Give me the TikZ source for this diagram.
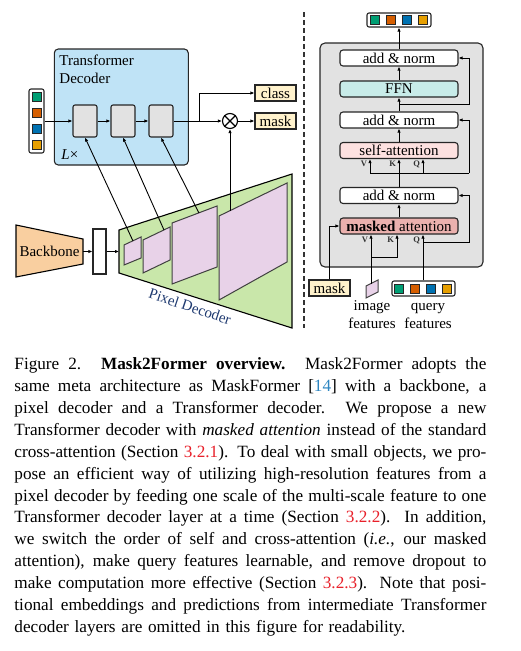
\documentclass[tikz,border=0pt]{standalone}
\usepackage{fontspec}
\setmainfont{Liberation Serif}
\usepackage{xcolor}
\usetikzlibrary{arrows.meta,calc}
\definecolor{tdblue}{HTML}{BFE3F6}
\definecolor{blkgray}{HTML}{E2E2E2}
\definecolor{pdgreen}{HTML}{C9E7AA}
\definecolor{featpink}{HTML}{E8D2E8}
\definecolor{bbpeach}{HTML}{F9CFA0}
\definecolor{outcream}{HTML}{FFF2CC}
\definecolor{ffnteal}{HTML}{C8ECE9}
\definecolor{sapink}{HTML}{FDE1E0}
\definecolor{mapink}{HTML}{EBB1AE}
\definecolor{qgreen}{HTML}{009E73}
\definecolor{qorange}{HTML}{D55E00}
\definecolor{qblue}{HTML}{0072B2}
\definecolor{qyellow}{HTML}{E69F00}
\definecolor{pdtext}{HTML}{1F3A70}
\definecolor{citeblue}{HTML}{2E86C1}
\definecolor{refred}{HTML}{E8202A}
\newcommand{\capline}[1]{\makebox[472pt][s]{\spaceskip=0pt\xspaceskip=0pt #1}}

\begin{document}
\begin{tikzpicture}[x=1pt,y=-1pt,>={Latex[length=4pt,width=3.4pt]},line width=0.9pt,
  frame/.style={draw=black!85,line width=1.1pt,rounded corners=2pt,inner sep=0pt},
  lbl/.style={font=\fontsize{15}{18}\selectfont,inner sep=0pt},
  tok/.style={draw=black!85,line width=0.8pt,minimum size=9pt,inner sep=0pt},
  sub/.style={frame,rounded corners=3pt,minimum width=118pt,minimum height=16pt,lbl},
  feat/.style={line width=1pt,draw=black!75,fill=featpink},
  vkq/.style={font=\fontsize{8.5}{9}\selectfont\bfseries,inner sep=0pt,anchor=north east,text=black!80}]
\useasboundingbox (0,0) rectangle (521,651);

\node[frame,rounded corners=4pt,fill=tdblue,minimum width=134pt,minimum height=116pt] (td) at (121.3,107) {};
\node[lbl,anchor=base west] (tdname1) at (59,65) {Transformer};
\node[lbl,anchor=base west] (tdname2) at (59,83) {Decoder};
\node[lbl,anchor=base west] (rep) at (61,159) {\textit{L}×};
\node[frame,fill=white,minimum width=15pt,minimum height=64pt] (qin) at (36.5,121) {};
\foreach \c [count=\i] in {qgreen,qorange,qblue,qyellow}
  \node[tok,fill=\c] (qin\i) at (36.5,81+16*\i) {};
\foreach \i/\x in {1/85,2/123,3/161}
  \node[frame,fill=blkgray,minimum width=24pt,minimum height=32pt] (b\i) at (\x,121) {};
\node[frame,rounded corners=0pt,fill=outcream,minimum width=41pt,minimum height=16pt,lbl] (cls) at (275.5,93) {class};
\node[frame,rounded corners=0pt,fill=outcream,minimum width=41pt,minimum height=16pt,lbl] (msk) at (275.5,121) {mask};
\node[draw,circle,line width=1.1pt,minimum size=15pt,inner sep=0pt] (ot) at (230,121) {};
\draw[line width=1.1pt] (ot.north west) -- (ot.south east) (ot.north east) -- (ot.south west);
\coordinate (split) at (199,121);
\draw[->] (qin.east) -- (b1.west);
\draw[->] (b1.east) -- (b2.west);
\draw[->] (b2.east) -- (b3.west);
\draw (b3.east) -- (split);
\draw[->] (split) -- (ot.west);
\draw[->] (split) |- (cls.west);
\draw[->] (ot.east) -- (msk.west);

\draw[line width=1.1pt,fill=bbpeach] (16,225) -- (83,239) -- (83,264) -- (16,277) -- cycle;
\node[lbl] (bb) at (49.5,251.5) {Backbone};
\coordinate (bbout) at (83,251.5);
\node[frame,rounded corners=0pt,fill=white,minimum width=13pt,minimum height=45pt] (fpn) at (99.5,251.5) {};
\draw[line width=1.1pt,fill=pdgreen] (119,230) -- (292,174) -- (292,328) -- (119,273) -- cycle;
\coordinate (pdin) at (119,251.5);
\foreach \a/\b/\c/\d/\e/\f in {124/245/265/141/237/258,143/240/273/170/227/260,172/223/284/217/206/267,219/216/300/287/183/262}
  \draw[feat] (\a,\b) -- (\d,\e) -- (\d,\f) -- (\a,\c) -- cycle;
\node[lbl,text=pdtext,rotate=-18.5] (pdname) at (190,306.5) {Pixel Decoder};
\draw[->] (bbout) -- (fpn.west);
\draw[->] (fpn.east) -- (pdin);
\coordinate (p1) at (133,241);
\coordinate (p2) at (164,230);
\coordinate (p3) at (199,213);
\coordinate (p4) at (230,211);
\draw[->] (p1) -- (b1.south);
\draw[->] (p2) -- (b2.south);
\draw[->] (p3) -- (b3.south);
\draw[->] (p4) -- (ot.south);

\draw[line width=1.2pt,dash pattern=on 5pt off 3pt,black!80] (304,12) -- (304,328);

\node[frame,rounded corners=5pt,fill=blkgray,minimum width=163pt,minimum height=224pt] (layer) at (401.5,155) {};
\node[frame,fill=white,minimum width=64pt,minimum height=14pt] (qout) at (399,20) {};
\foreach \c [count=\i] in {qgreen,qorange,qblue,qyellow}
  \node[tok,fill=\c] (qout\i) at (358.5+16*\i,20) {};
\node[sub,fill=white] (an1) at (399,58) {add \& norm};
\node[sub,fill=ffnteal] (ffn) at (399,89) {FFN};
\node[sub,fill=white] (an2) at (399,120) {add \& norm};
\node[sub,fill=sapink] (sa) at (399,150.5) {self-attention};
\node[sub,fill=white] (an3) at (399,195.5) {add \& norm};
\node[sub,fill=mapink] (ma) at (399,226) {\textbf{masked} attention};

\node[frame,rounded corners=0pt,fill=outcream,minimum width=41pt,minimum height=16pt,lbl] (mk) at (329.5,288) {mask};
\draw[feat] (366,286) -- (378,280) -- (378,292) -- (366,298) -- cycle;
\coordinate (imf) at (371,283.5);
\node[frame,fill=white,minimum width=63pt,minimum height=15pt] (qf) at (423.5,288.5) {};
\foreach \c [count=\i] in {qgreen,qorange,qblue,qyellow}
  \node[tok,fill=\c] (qf\i) at (383+16*\i,288.5) {};
\node[lbl,anchor=base] (imftxt1) at (372,310) {image};
\node[lbl,anchor=base] (imftxt2) at (372,328) {features};
\node[lbl,anchor=base] (qftxt1) at (428,310) {query};
\node[lbl,anchor=base] (qftxt2) at (428,328) {features};

\coordinate (rx) at (469,0);
\coordinate (r1) at ($(an2.north)!0.5!(ffn.south)$);
\coordinate (r2) at (399,173);
\coordinate (r3) at (423,242);
\coordinate (br) at (371,257);
\coordinate (saV) at ($(sa.south)+(-29,0)$);
\coordinate (saK) at (sa.south);
\coordinate (saQ) at ($(sa.south)+(24,0)$);
\coordinate (maV) at ($(ma.south)+(-28,0)$);
\coordinate (maK) at ($(ma.south)+(-2,0)$);
\coordinate (maQ) at ($(ma.south)+(24,0)$);
\draw[->] (an1.north) -- (qout.south);
\draw[->] (ffn.north) -- (an1.south);
\draw[->] (an2.north) -- (ffn.south);
\draw[->] (sa.north) -- (an2.south);
\draw[->] (an3.north) -- (saK);
\draw[->] (ma.north) -- (an3.south);
\draw[->] (r1) -- (r1 -| rx) |- (an1.east);
\draw (saV |- r2) -- (r2 -| rx);
\draw[->] (r2 -| rx) |- (an2.east);
\draw[->] (saV |- r2) -- (saV);
\draw[->] (saQ |- r2) -- (saQ);
\draw[->] (imf) -- (maV);
\draw[->] (br) -| (maK);
\draw[->] (qf.north -| maQ) -- (maQ);
\draw[->] (r3) -- (r3 -| rx) |- (an3.east);
\draw[->] (mk.north) |- (ma.west);
\foreach \p/\t in {saV/V,saK/K,saQ/Q,maV/V,maK/K,maQ/Q}
  \node[vkq] at ($(\p)+(-2.5,1.5)$) {\t};

\node[anchor=north west,inner sep=0pt,text width=472pt,align=left,font=\fontsize{17.2}{21.9}\selectfont] (caption) at (14,357.3) {%
\capline{Figure 2.  \textbf{Mask2Former overview.}  Mask2Former adopts the}\\
\capline{same meta architecture as MaskFormer [\textcolor{citeblue}{14}] with a backbone, a}\\
\capline{pixel decoder and a Transformer decoder.  We propose a new}\\
\capline{Transformer decoder with \textit{masked attention} instead of the standard}\\
\capline{cross-attention (Section \textcolor{refred}{3.2.1}). To deal with small objects, we pro-}\\
\capline{pose an efficient way of utilizing high-resolution features from a}\\
\capline{pixel decoder by feeding one scale of the multi-scale feature to one}\\
\capline{Transformer decoder layer at a time (Section \textcolor{refred}{3.2.2}).  In addition,}\\
\capline{we switch the order of self and cross-attention (\textit{i.e.}, our masked}\\
\capline{attention), make query features learnable, and remove dropout to}\\
\capline{make computation more effective (Section \textcolor{refred}{3.2.3}). Note that posi-}\\
\capline{tional embeddings and predictions from intermediate Transformer}\\
decoder layers are omitted in this figure for readability.};
\end{tikzpicture}
\end{document}
